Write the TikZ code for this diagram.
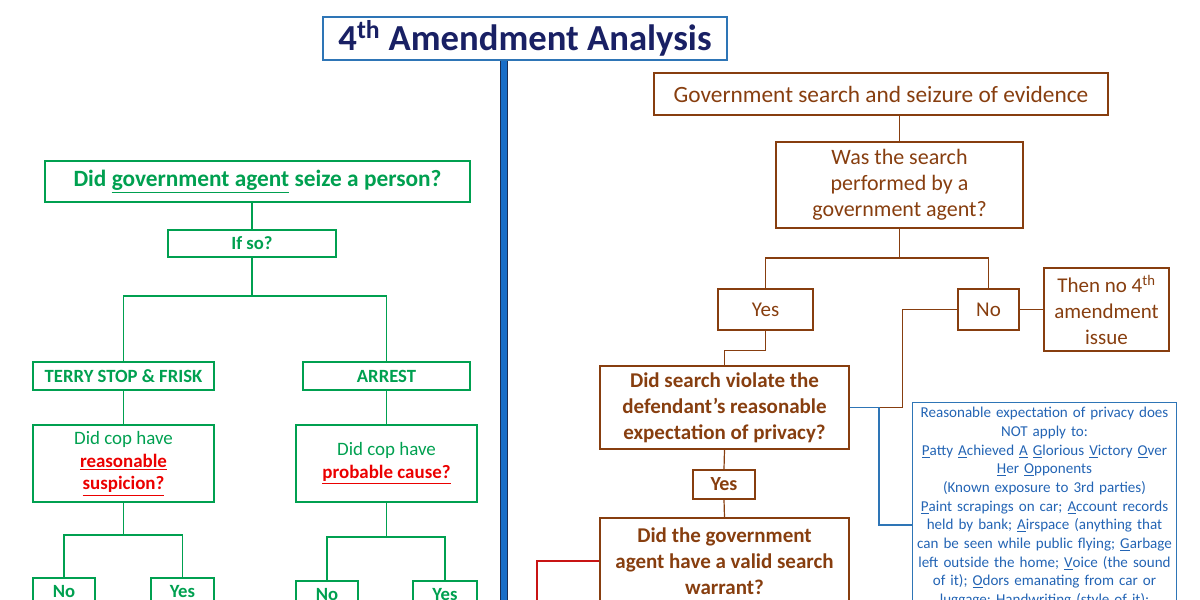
\documentclass[tikz,border=0pt]{standalone}
\usepackage{fontspec}
\setmainfont{Carlito}

\definecolor{seizegreen}{RGB}{0,160,80}
\definecolor{searchbrown}{RGB}{135,62,15}
\definecolor{titlenavy}{RGB}{25,32,100}
\definecolor{titleblue}{RGB}{46,117,182}
\definecolor{privblue}{RGB}{35,100,180}
\definecolor{causered}{RGB}{235,0,0}
\definecolor{warrantred}{RGB}{200,20,20}
\definecolor{barblue}{RGB}{25,110,200}
\definecolor{bardark}{RGB}{25,45,85}

\tikzset{
  greenbox/.style={draw=seizegreen, line width=1pt, text=seizegreen, align=center, inner sep=0pt},
  brownbox/.style={draw=searchbrown, line width=1pt, text=searchbrown, align=center, inner sep=0pt},
  greenline/.style={draw=seizegreen, line width=0.9pt},
  brownline/.style={draw=searchbrown, line width=0.9pt},
  blueline/.style={draw=titleblue, line width=0.9pt},
  redline/.style={draw=warrantred, line width=0.9pt},
  bigfont/.style={font=\fontsize{15.75}{19.5}\selectfont},
  bigbold/.style={font=\fontsize{15.75}{19.5}\selectfont\bfseries},
  midfont/.style={font=\fontsize{14.2}{17}\selectfont},
  midbold/.style={font=\fontsize{14}{17}\selectfont\bfseries},
  smallfont/.style={font=\fontsize{14}{17}\selectfont\bfseries},
}

\begin{document}
\begin{tikzpicture}[x=0.75pt,y=-0.75pt]
    \useasboundingbox (0,0) rectangle (1200,600);
    \clip (0,0) rectangle (1200,600);
    % divider
    \draw[bardark, fill=barblue, line width=0.6pt] (500,60) rectangle (507,610);
    % title
    \node[draw=titleblue, line width=1pt, text=titlenavy, inner sep=0pt,
          minimum width=303pt, minimum height=32.25pt,
          font=\fontsize{27.5}{30}\selectfont\bfseries] (title) at (525,38.5)
          {4\textsuperscript{th} Amendment Analysis};

    % seizure of a person
    \node[greenbox, font=\fontsize{17.5}{20}\selectfont\bfseries, minimum width=318.75pt, minimum height=30.75pt]
        (seize) at (257.5,181.5) {Did \underline{government agent} seize a person?};
    \node[greenbox, smallfont, minimum width=126pt, minimum height=20.25pt] (ifso) at (252,243.5) {If so?};
    \node[greenbox, smallfont, minimum width=135.75pt, minimum height=21pt] (terry) at (123.5,376) {TERRY STOP \& FRISK};
    \node[greenbox, smallfont, minimum width=125.25pt, minimum height=21pt] (arrest) at (386.5,376) {ARREST};
    \node[greenbox, midfont, minimum width=135.75pt, minimum height=57.75pt] (suspicion) at (123.5,463.5)
        {Did cop have\\\textcolor{causered}{\bfseries\underline{reasonable}}\\\textcolor{causered}{\bfseries\underline{suspicion?}}};
    \node[greenbox, midfont, minimum width=135.75pt, minimum height=57.75pt] (cause) at (386.5,463.5)
        {Did cop have\\\textcolor{causered}{\bfseries\underline{probable cause?}}};
    \node[greenbox, midbold, minimum width=46.5pt, minimum height=21pt] (sno) at (64,592) {No};
    \node[greenbox, midbold, minimum width=47.25pt, minimum height=21pt] (syes) at (182.5,592) {Yes};
    \node[greenbox, midbold, minimum width=46.5pt, minimum height=21pt] (cno) at (327,595) {No};
    \node[greenbox, midbold, minimum width=48pt, minimum height=21pt] (cyes) at (445,595) {Yes};

    \coordinate (sofork) at (252,296);
    \coordinate (suspfork) at (123.5,535);
    \coordinate (causefork) at (386.5,537);
    \draw[greenline] (seize.south -| ifso.north) -- (ifso.north);
    \draw[greenline] (ifso.south) -- (sofork);
    \draw[greenline] (terry.north) |- (sofork) -| (arrest.north);
    \draw[greenline] (terry.south) -- (suspicion.north);
    \draw[greenline] (arrest.south) -- (cause.north);
    \draw[greenline] (suspicion.south) -- (suspfork);
    \draw[greenline] (sno.north) |- (suspfork) -| (syes.north);
    \draw[greenline] (cause.south) -- (causefork);
    \draw[greenline] (cno.north) |- (causefork) -| (cyes.north);

    % search and seizure of evidence
    \node[brownbox, font=\fontsize{17.5}{20}\selectfont, minimum width=340.5pt, minimum height=31.5pt] (gov) at (881,94)
        {Government search and seizure of evidence};
    \node[brownbox, font=\fontsize{16.5}{19.5}\selectfont, minimum width=185.25pt, minimum height=64.5pt] (agent) at (899.5,185)
        {Was the search\\performed by a\\government agent?};
    \node[brownbox, bigfont, minimum width=71.25pt, minimum height=30.75pt] (ayes) at (765.5,309.5) {Yes};
    \node[brownbox, bigfont, minimum width=45.75pt, minimum height=30.75pt] (ano) at (988.5,309.5) {No};
    \node[brownbox, bigfont, minimum width=93.75pt, minimum height=62.25pt] (noissue) at (1106.5,309.5)
        {Then no 4\textsuperscript{th}\\amendment\\issue};
    \node[brownbox, bigbold, minimum width=186.75pt, minimum height=62.25pt] (privacy) at (724.5,407.5)
        {Did search violate the\\defendant’s reasonable\\expectation of privacy?};
    \node[brownbox, font=\fontsize{15}{18}\selectfont\bfseries, minimum width=46.5pt, minimum height=21.75pt] (pyes) at (724,484.5) {Yes};
    \node[brownbox, bigbold, minimum width=186.75pt, minimum height=64.5pt] (warrant) at (724.5,561)
        {Did the government\\agent have a valid search\\warrant?};
    \node[draw=titleblue, line width=0.9pt, text=privblue, align=center, anchor=north,
          inner xsep=1pt, inner ysep=3.5pt, text width=196.5pt,
          font=\fontsize{11.3}{14}\selectfont] (notapply) at (1044.5,402)
        {Reasonable expectation of privacy does\\NOT apply to:\\
         \underline{P}atty \underline{A}chieved \underline{A} \underline{G}lorious \underline{V}ictory \underline{O}ver\\
         \underline{H}er \underline{O}pponents\\
         (Known exposure to 3rd parties)\\
         \underline{P}aint scrapings on car; \underline{A}ccount records\\
         held by bank; \underline{A}irspace (anything that\\
         can be seen while public flying; \underline{G}arbage\\
         left outside the home; \underline{V}oice (the sound\\
         of it); \underline{O}dors emanating from car or\\
         luggage; \underline{H}andwriting (style of it);};

    \coordinate (agentfork) at (899.5,258);
    \coordinate (privjoin) at (879,407.5);
    \coordinate (notapplyin) at (912,525);
    \coordinate (redend) at (537,620);
    \draw[brownline] (gov.south -| agent.north) -- (agent.north);
    \draw[brownline] (agent.south) -- (agentfork);
    \draw[brownline] (ayes.north) |- (agentfork) -| (ano.north);
    \draw[brownline] (ano.east) -- (noissue.west);
    \draw[brownline] (ano.west) -- ++(-54.5,0) |- (privjoin);
    \draw[brownline] (ayes.south) -- ++(0,20) -| (privacy.north);
    \draw[brownline] (privacy.south) -- (pyes.north);
    \draw[brownline] (pyes.south) -- (warrant.north);
    \draw[blueline] (privacy.east) -- (privjoin) |- (notapplyin);
    \draw[redline] (warrant.west) -| (redend);
\end{tikzpicture}
\end{document}
